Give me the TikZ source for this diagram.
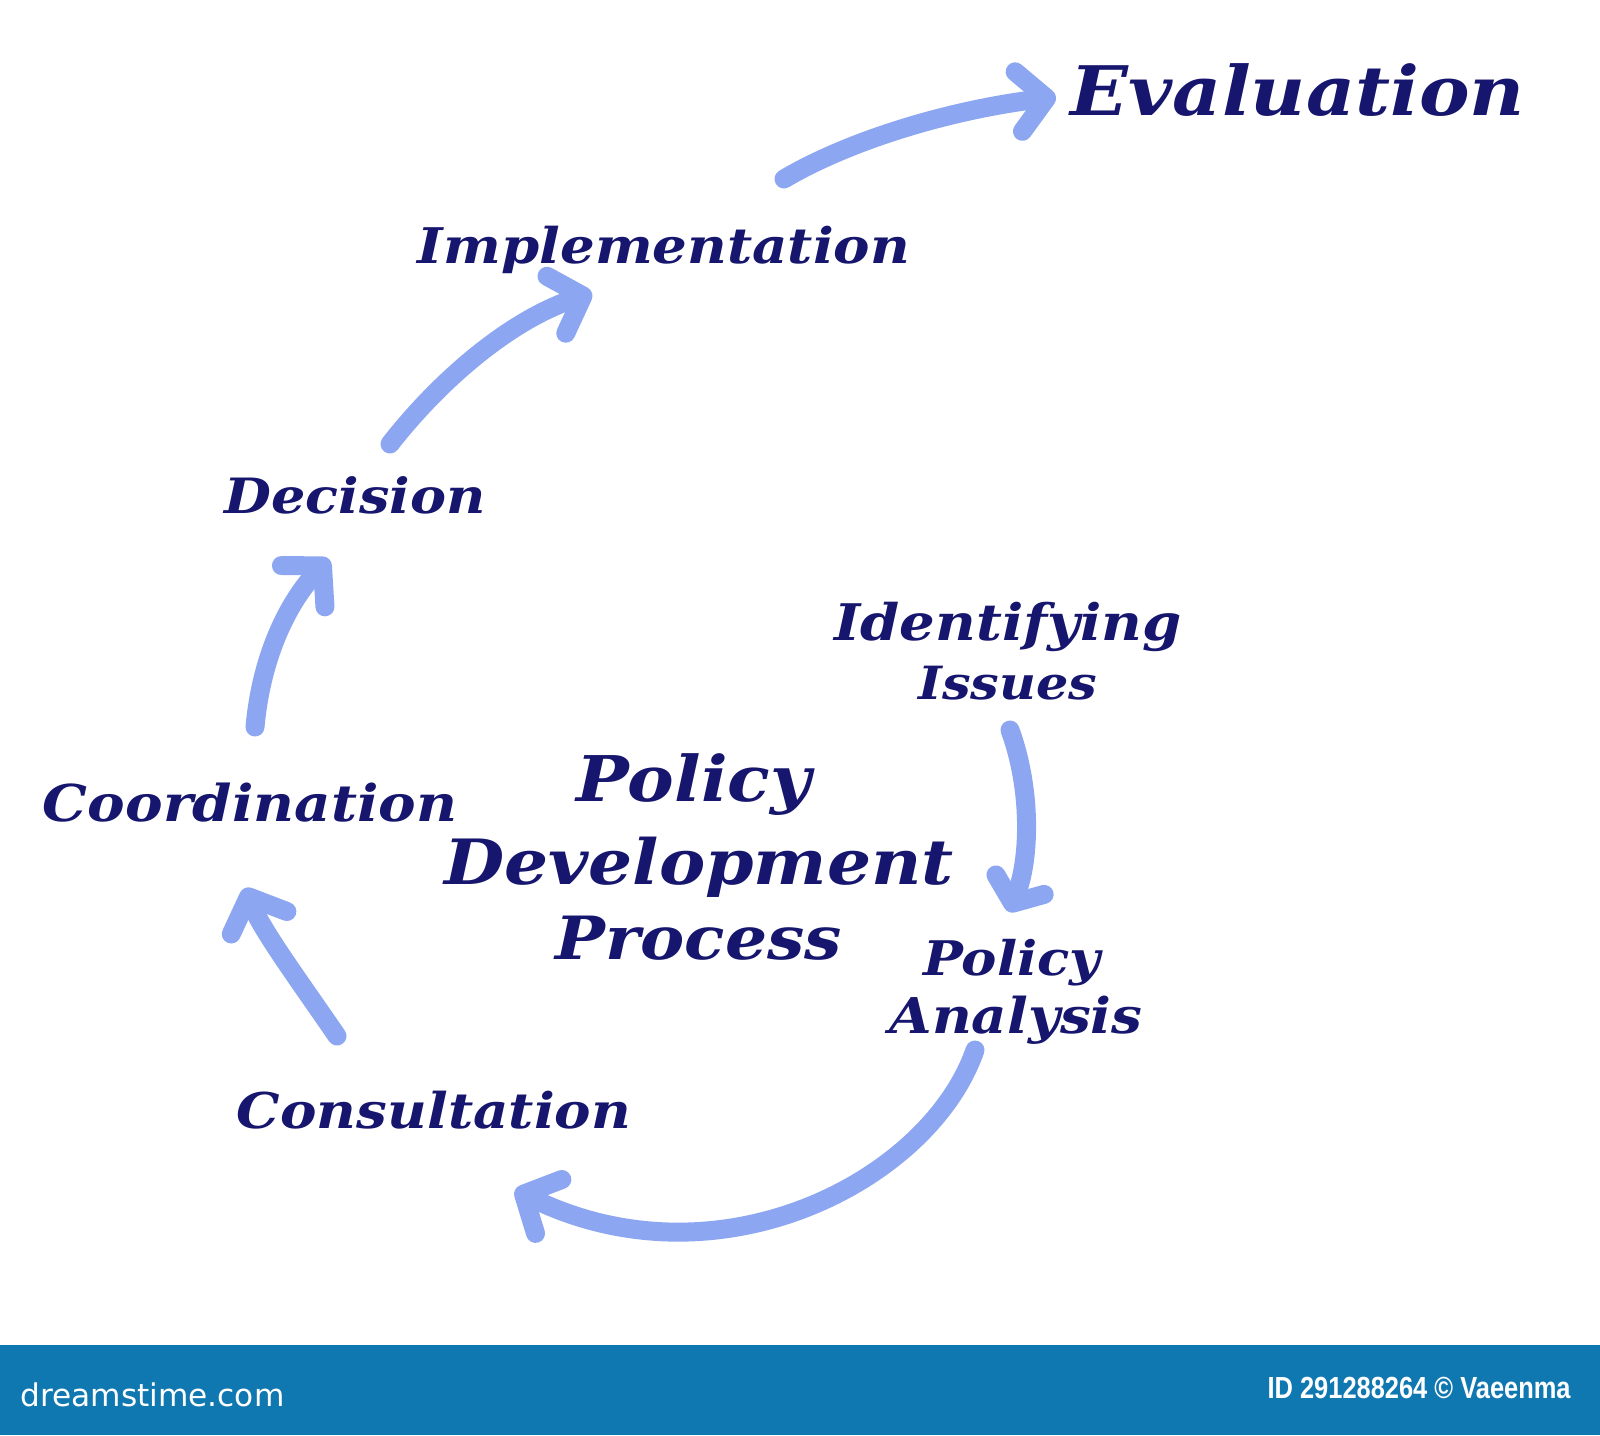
\documentclass[tikz,border=0pt]{standalone}
\usepackage{fontspec}
\usepackage{graphicx}
\usetikzlibrary{arrows.meta}
\newfontfamily\scriptf{DejaVu Serif}
\newfontfamily\bannerf{Liberation Sans}
\newfontfamily\logof{DejaVu Sans}
\definecolor{ink}{RGB}{22,22,110}
\definecolor{arrowc}{RGB}{141,166,242}
\definecolor{bannerc}{RGB}{16,120,176}
\newcommand\lbl[2]{\resizebox{#1}{!}{\scalebox{1}[0.9]{\scriptf\bfseries\itshape #2}}}
\tikzset{
  lab/.style={text=ink, inner sep=0pt, anchor=base},
  flow/.style={draw=arrowc, line width=9.5pt, line cap=round,
    -{Straight Barb[length=14pt, width=30pt, round]}},
  smallhead/.style={-{Straight Barb[length=10pt, width=26pt, round]}},
}
\begin{document}
\begin{tikzpicture}[x=0.5pt, y=-0.5pt]
\useasboundingbox (0,0) rectangle (1600,1435);
\fill[white] (0,0) rectangle (1600,1435);
% labels
\node[lab] (eval) at (1298,115) {\lbl{227pt}{Evaluation}};
\node[lab] (impl) at (664,263) {\lbl{246pt}{Implementation}};
\node[lab] (dec) at (355,513) {\lbl{130.5pt}{Decision}};
\node[lab] (id1) at (1008,640) {\lbl{173.5pt}{Identifying}};
\node[lab] (id2) at (1008,699) {\lbl{89.5pt}{Issues}};
\node[lab] (pdp1) at (694,801) {\lbl{117pt}{Policy}};
\node[lab] (pdp2) at (699,884) {\lbl{255pt}{Development}};
\node[lab] (pdp3) at (699,959) {\lbl{143pt}{Process}};
\node[lab] (coord) at (250,821) {\lbl{207pt}{Coordination}};
\node[lab] (pa1) at (1012,975) {\lbl{88.5pt}{Policy}};
\node[lab] (pa2) at (1016,1033) {\lbl{126.5pt}{Analysis}};
\node[lab] (cons) at (434,1128) {\lbl{197pt}{Consultation}};
% arrow end points
\coordinate (a1s) at (1010,730); \coordinate (a1e) at (1009,912);
\coordinate (a2s) at (975,1050); \coordinate (a2e) at (515,1190);
\coordinate (a3s) at (337,1036); \coordinate (a3e) at (245,888);
\coordinate (a4s) at (255,727);  \coordinate (a4e) at (329,559);
\coordinate (a5s) at (390,444);  \coordinate (a5e) at (592,293);
\coordinate (a6s) at (784,179);  \coordinate (a6e) at (1056,97);
% arrows
\draw[flow, smallhead] (a1s) .. controls (1032,790) and (1030,860) .. (a1e);
\draw[flow] (a2s) .. controls (930,1180) and (720,1290) .. (a2e);
\draw[flow] (a3s) .. controls (295,975) and (262,930) .. (a3e);
\draw[flow] (a4s) .. controls (262,650) and (292,598) .. (a4e);
\draw[flow] (a5s) .. controls (440,380) and (510,320) .. (a5e);
\draw[flow] (a6s) .. controls (850,140) and (950,110) .. (a6e);
% banner
\fill[bannerc] (0,1345) rectangle (1600,1435);
\node[anchor=base west, text=white, inner sep=0pt] (logo) at (20,1406) {\resizebox{132pt}{!}{\logof dreamstime.com}};
\node[anchor=base east, text=white, inner sep=0pt] (idtxt) at (1571,1398) {\resizebox{151.5pt}{!}{\scalebox{1}[1.2]{\bannerf\bfseries ID 291288264 © Vaeenma}}};
\end{tikzpicture}
\end{document}
